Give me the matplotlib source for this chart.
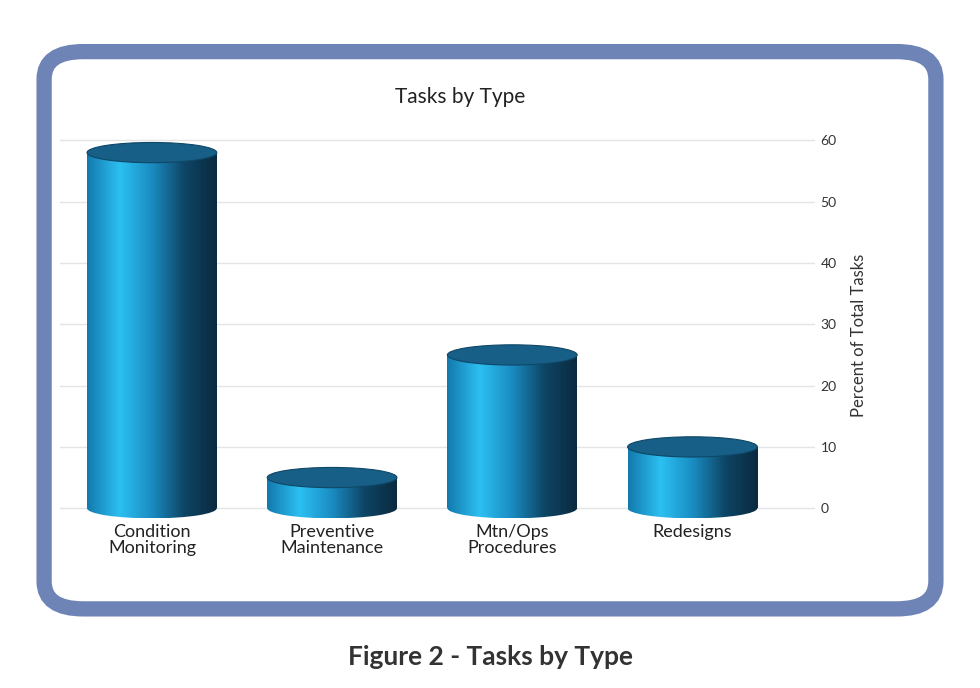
import numpy as np
import matplotlib.pyplot as plt
from matplotlib.patches import FancyBboxPatch, Ellipse, Rectangle
from matplotlib.colors import LinearSegmentedColormap

# data
categories = ['Condition\nMonitoring', 'Preventive\nMaintenance', 'Mtn/Ops\nProcedures', 'Redesigns']
values = [58, 5, 25, 10]
y_ticks = [0, 10, 20, 30, 40, 50, 60]

plt.rcParams['font.family'] = ['Lato', 'DejaVu Sans']

fig = plt.figure(figsize=(9.8, 6.88), dpi=100)

# rounded frame
frame = FancyBboxPatch((0.045, 0.115), 0.91, 0.81, boxstyle='round,pad=0,rounding_size=0.04',
                       transform=fig.transFigure, facecolor='white', edgecolor='#6f84b6',
                       linewidth=11, zorder=-5)
fig.patches.append(frame)

ax = fig.add_axes([60 / 980, (688 - 545) / 688, 755 / 980, 420 / 688])
ax.set_zorder(2)
ax.set_facecolor('none')
ax.set_xlim(-0.51, 3.68)
ax.set_ylim(-6, 62.5)

for t in y_ticks:
    ax.axhline(t, color='#e4e4e4', linewidth=1, zorder=0)

cmap = LinearSegmentedColormap.from_list('cyl', ['#1379ad', '#2cc0f2', '#1a8cc2', '#0e4565', '#0a2a3f'])
grad = np.linspace(0, 1, 256).reshape(1, -1)

w = 0.72
eh = 3.3
for i, v in enumerate(values):
    x0 = i - w / 2
    im = ax.imshow(grad, cmap=cmap, aspect='auto', extent=(x0, x0 + w, 0, v), zorder=2)
    im.set_clip_path(Rectangle((x0, 0), w, v, transform=ax.transData))
    im2 = ax.imshow(grad, cmap=cmap, aspect='auto', extent=(x0, x0 + w, -eh / 2, 0), zorder=2)
    im2.set_clip_path(Ellipse((i, 0), w, eh, transform=ax.transData))
    ax.add_patch(Ellipse((i, v), w, eh, facecolor='#175f86', edgecolor='#0f4767',
                         linewidth=0.8, zorder=3))
    ax.text(i, -2.5, categories[i], ha='center', va='top', fontsize=13, color='#222222',
            linespacing=1.0, clip_on=False)

ax.yaxis.tick_right()
ax.yaxis.set_label_position('right')
ax.set_yticks(y_ticks)
ax.set_yticklabels([str(t) for t in y_ticks], fontsize=10, color='#333333')
ax.tick_params(length=0, pad=4)
ax.set_xticks([])
ax.set_ylabel('Percent of Total Tasks', fontsize=12, color='#333333', labelpad=10)
for s in ax.spines.values():
    s.set_visible(False)

fig.text(460 / 980, 1 - 97 / 688, 'Tasks by Type', ha='center', va='center', fontsize=15,
         color='#222222')
fig.text(0.5, 1 - 657 / 688, 'Figure 2 - Tasks by Type', ha='center', va='center',
         fontsize=19, fontweight='bold', color='#333333')

fig.savefig('out.png', dpi=100)
